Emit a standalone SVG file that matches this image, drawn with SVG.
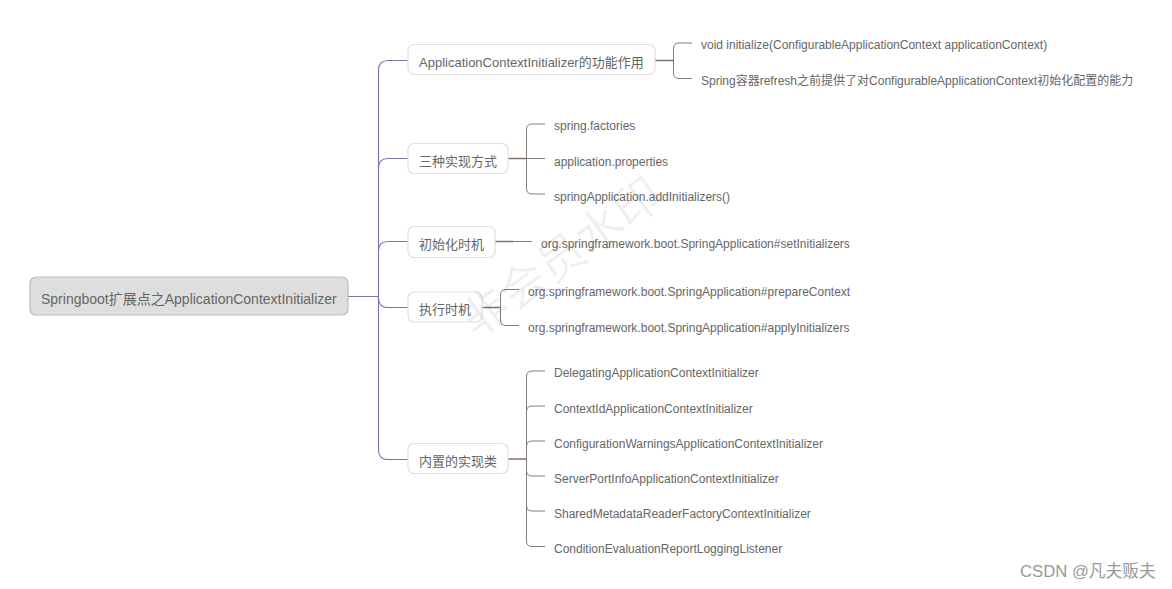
<svg xmlns="http://www.w3.org/2000/svg" width="1172" height="589" viewBox="0 0 1172 589">
<style>
text{font-family:"Liberation Sans","Noto Sans CJK SC",sans-serif;fill:#666}
.root{fill:#dedede;stroke:#bdbdbd;stroke-width:1.2}
.box{fill:#fff;stroke:#e0e0e0;stroke-width:1.2}
.t{font-size:13px}
.r{font-size:14px}
.l{font-size:12px}
.p{fill:none;stroke:#7c70b4;stroke-width:1.1}
.b{fill:none;stroke:#857b74;stroke-width:1}
.h{fill:none;stroke:#7d726a;stroke-width:1.6}
</style>
<g id="connectors">
<path class="p" d="M348 296.500H378.500M378.500 70V450M378.500 70Q378.500 60.500 388 60.500H408M378.500 168Q378.500 158.500 388 158.500H408M378.500 251Q378.500 241.500 388 241.500H408M378.500 298Q378.500 307.500 388 307.500H408M378.500 450Q378.500 459.500 388 459.500H408"/>
<path class="h" d="M655 60.500H674M508 158.500H526M495 241.500H513M482 307.500H500M508 459H526"/>
<path class="b" d="M692 43H679Q673.500 43 673.500 48.500V73Q673.500 78.500 679 78.500H692"/>
<path class="b" d="M545 124H532Q526.500 124 526.500 129.500V188.500Q526.500 194 532 194H545M526 158.500H545"/>
<path class="b" d="M513 241.500H532"/>
<path class="b" d="M519 289.500H506Q500.500 289.500 500.500 295V320Q500.500 325.500 506 325.500H519"/>
<path class="b" d="M545 371H532Q526.500 371 526.500 376.500V541Q526.500 546.500 532 546.500H545M545 406H532Q526.500 406 526.500 411.500M545 441H532Q526.500 441 526.500 446.500M545 476H532Q526.500 476 526.500 470.500M545 511H532Q526.500 511 526.500 505.500"/>
</g>
<g id="root"><rect class="root" x="30" y="277" width="318" height="38" rx="6"/><text class="r" x="41" y="303.500">Springboot扩展点之ApplicationContextInitializer</text></g>
<g id="n1"><rect class="box" x="408" y="44.500" width="247" height="30" rx="6"/><text class="t" x="419" y="67">ApplicationContextInitializer的功能作用</text></g>
<g id="n2"><rect class="box" x="408" y="143.500" width="100" height="30" rx="6"/><text class="t" x="419" y="166">三种实现方式</text></g>
<g id="n3"><rect class="box" x="408" y="226.500" width="87" height="31" rx="6"/><text class="t" x="419" y="249">初始化时机</text></g>
<g id="n4"><rect class="box" x="408" y="292" width="74" height="30" rx="6"/><text class="t" x="419" y="314">执行时机</text></g>
<g id="n5"><rect class="box" x="408" y="443.500" width="100" height="30" rx="6"/><text class="t" x="419" y="466">内置的实现类</text></g>
<g id="l11"><text class="l" x="701" y="49">void initialize(ConfigurableApplicationContext applicationContext)</text></g>
<g id="l12"><text class="l" x="701" y="85">Spring容器refresh之前提供了对ConfigurableApplicationContext初始化配置的能力</text></g>
<g id="l21"><text class="l" x="554" y="130">spring.factories</text></g>
<g id="l22"><text class="l" x="554" y="166">application.properties</text></g>
<g id="l23"><text class="l" x="554" y="201">springApplication.addInitializers()</text></g>
<g id="l31"><text class="l" x="541" y="248">org.springframework.boot.SpringApplication#setInitializers</text></g>
<g id="l41"><text class="l" x="528" y="296">org.springframework.boot.SpringApplication#prepareContext</text></g>
<g id="l42"><text class="l" x="528" y="332">org.springframework.boot.SpringApplication#applyInitializers</text></g>
<g id="l51"><text class="l" x="554" y="377">DelegatingApplicationContextInitializer</text></g>
<g id="l52"><text class="l" x="554" y="413">ContextIdApplicationContextInitializer</text></g>
<g id="l53"><text class="l" x="554" y="448">ConfigurationWarningsApplicationContextInitializer</text></g>
<g id="l54"><text class="l" x="554" y="483">ServerPortInfoApplicationContextInitializer</text></g>
<g id="l55"><text class="l" x="554" y="518">SharedMetadataReaderFactoryContextInitializer</text></g>
<g id="l56"><text class="l" x="554" y="553">ConditionEvaluationReportLoggingListener</text></g>
<text x="476" y="340" transform="rotate(-36 476 340)" style="font-size:47px;fill:#000;fill-opacity:.06">非会员水印</text>
<text x="1020" y="577" style="font-size:16.700px;fill:#999">CSDN @凡夫贩夫</text>
</svg>
